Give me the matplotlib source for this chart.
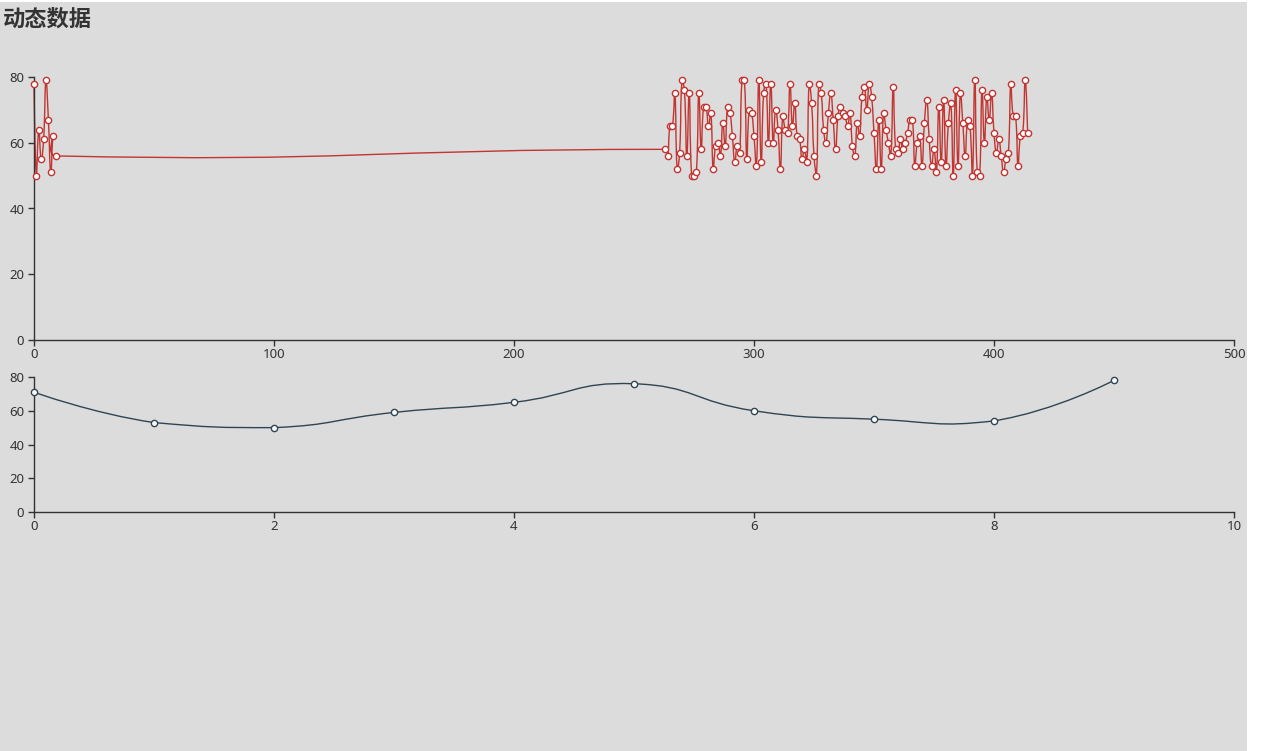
import numpy as np
import matplotlib
matplotlib.use("Agg")
import matplotlib.pyplot as plt
from matplotlib.path import Path
from matplotlib.patches import PathPatch, Rectangle

plt.rcParams['font.family'] = ['Noto Sans CJK SC', 'DejaVu Sans']

title = "动态数据"

# top series: (x, value)
top_x1 = list(range(0, 10))
top_y1 = [78, 50, 64, 55, 61, 79, 67, 51, 62, 56]
top_x2 = list(range(263, 415))
top_y2 = [58, 56, 65, 65, 75, 52, 57, 79, 76, 56,
          75, 50, 50, 51, 75, 58, 71, 71, 65, 69,
          52, 59, 60, 56, 66, 59, 71, 69, 62, 54,
          59, 57, 79, 79, 55, 70, 69, 62, 53, 79,
          54, 75, 78, 60, 78, 60, 70, 64, 52, 68,
          64, 63, 78, 65, 72, 62, 61, 55, 58, 54,
          78, 72, 56, 50, 78, 75, 64, 60, 69, 75,
          67, 58, 68, 71, 69, 68, 65, 69, 59, 56,
          66, 62, 74, 77, 70, 78, 74, 63, 52, 67,
          52, 69, 64, 60, 56, 77, 58, 57, 61, 58,
          60, 63, 67, 67, 53, 60, 62, 53, 66, 73,
          61, 53, 58, 51, 71, 54, 73, 53, 66, 72,
          50, 76, 53, 75, 66, 56, 67, 65, 50, 79,
          51, 50, 76, 60, 74, 67, 75, 63, 57, 61,
          56, 51, 55, 57, 78, 68, 68, 53, 62, 63,
          79, 63]
top_x = top_x1 + top_x2
top_y = top_y1 + top_y2

bot_x = list(range(0, 10))
bot_y = [71, 53, 50, 59, 65, 76, 60, 55, 54, 78]

top_xticks = [0, 100, 200, 300, 400, 500]
bot_xticks = [0, 2, 4, 6, 8, 10]
yticks = [0, 20, 40, 60, 80]

W, H = 1266, 751
fig = plt.figure(figsize=(W / 100, H / 100), dpi=100)
fig.patch.set_facecolor('white')
fig.patches.append(Rectangle((0, 0), 1247 / W, (H - 2) / H, transform=fig.transFigure,
                             facecolor='#dcdcdc', edgecolor='none', zorder=-10))


def echarts_smooth(xs, ys, sx, sy, smooth=0.5):
    pts = np.column_stack([np.asarray(xs, float) * sx, np.asarray(ys, float) * sy])
    mn = pts.min(0)
    mx = pts.max(0)
    verts = [pts[0].copy()]
    codes = [Path.MOVETO]
    cp0 = pts[0].copy()
    n = len(pts)
    v = np.zeros(2)
    for i in range(1, n):
        p = pts[i]
        prev = pts[i - 1]
        r = 0.5
        if i + 1 < n:
            nxt = pts[i + 1]
            v = nxt - prev
            lp = np.hypot(*(p - prev))
            ln = np.hypot(*(nxt - p))
            r = ln / (ln + lp)
            cp1 = p - v * smooth * (1 - r)
        else:
            cp1 = p.copy()
        c0 = np.clip(cp0, mn, mx)
        c1 = np.clip(cp1, mn, mx)
        verts += [c0, c1, p.copy()]
        codes += [Path.CURVE4] * 3
        cp0 = p + v * smooth * r
    verts = np.array(verts)
    verts[:, 0] /= sx
    verts[:, 1] /= sy
    return Path(verts, codes)


def style_axes(ax, xlim, xticks):
    ax.set_facecolor('none')
    ax.set_xlim(*xlim)
    ax.set_ylim(0, 80)
    ax.set_xticks(xticks)
    ax.set_yticks(yticks)
    for s in ['top', 'right']:
        ax.spines[s].set_visible(False)
    for s in ['left', 'bottom']:
        ax.spines[s].set_color('#333333')
        ax.spines[s].set_linewidth(1)
    ax.tick_params(axis='both', colors='#333333', labelsize=9.5, length=4, width=1,
                   direction='out')
    ax.tick_params(axis='y', pad=3)
    ax.tick_params(axis='x', pad=2)
    for lab in ax.get_xticklabels() + ax.get_yticklabels():
        lab.set_family(['Noto Sans', 'DejaVu Sans'])


# top axes
ax1 = fig.add_axes([34 / W, (H - 340) / H, 1200 / W, 263 / H])
style_axes(ax1, (0, 500), top_xticks)
path1 = echarts_smooth(top_x, top_y, 2.4, 263 / 80)
ax1.add_patch(PathPatch(path1, facecolor='none', edgecolor='#c23531', lw=1, clip_on=False))
ax1.plot(top_x, top_y, linestyle='none', marker='o', markersize=4.5, markerfacecolor='white',
         markeredgecolor='#c23531', markeredgewidth=1, clip_on=False, zorder=3)

# bottom axes
ax2 = fig.add_axes([34 / W, (H - 512) / H, 1200 / W, 135 / H])
style_axes(ax2, (0, 10), bot_xticks)
path2 = echarts_smooth(bot_x, bot_y, 120, 135 / 80)
ax2.add_patch(PathPatch(path2, facecolor='none', edgecolor='#2f4554', lw=1, clip_on=False))
ax2.plot(bot_x, bot_y, linestyle='none', marker='o', markersize=4.5, markerfacecolor='white',
         markeredgecolor='#2f4554', markeredgewidth=1, clip_on=False, zorder=3)

fig.text(3 / W, 1 - 19 / H, title, fontsize=16, fontweight='bold', color='#333333',
         ha='left', va='center')

fig.savefig('out.png', dpi=100, facecolor=fig.get_facecolor())
